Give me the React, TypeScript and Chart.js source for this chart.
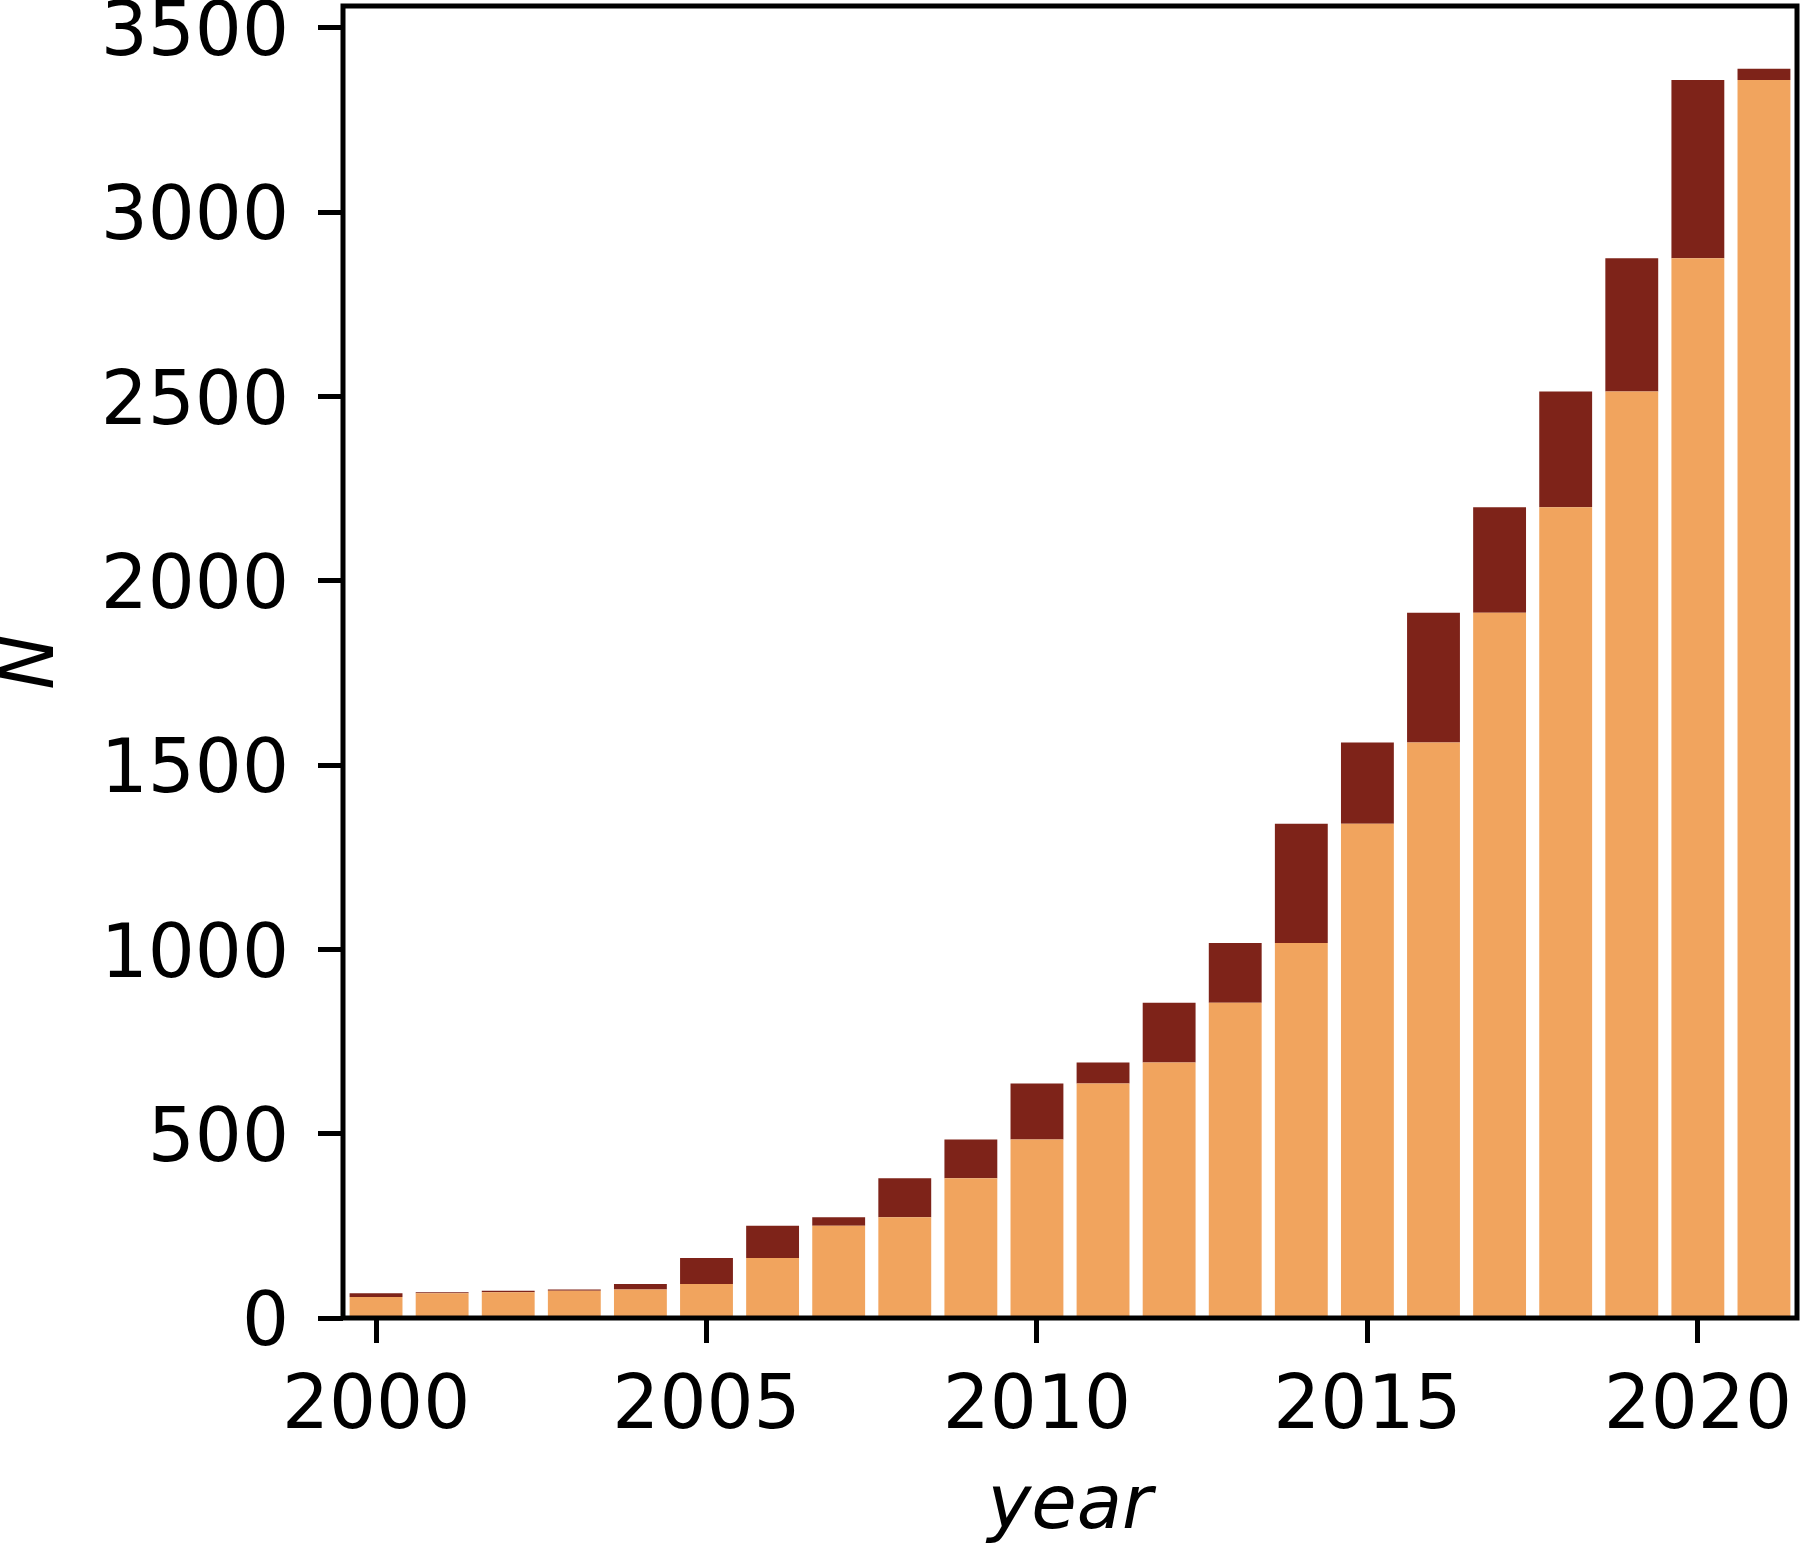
import React, { useEffect, useRef } from "react";
import { Chart, registerables } from "chart.js";

Chart.register(...registerables);

// ---- data ----
const years = [
  2000, 2001, 2002, 2003, 2004, 2005, 2006, 2007, 2008, 2009, 2010,
  2011, 2012, 2013, 2014, 2015, 2016, 2017, 2018, 2019, 2020, 2021,
];
// cumulative count up to the previous year (orange, bottom part)
const previousTotal = [
  57, 67, 70, 74, 77, 92, 163, 250, 273, 379, 484,
  636, 693, 855, 1017, 1341, 1561, 1913, 2199, 2513, 2875, 3358,
];
// new in that year (dark red, top part)
const newThisYear = [
  10, 3, 4, 3, 15, 71, 87, 23, 106, 105, 152,
  57, 162, 162, 324, 220, 352, 286, 314, 362, 483, 31,
];
const xTickValues = [2000, 2005, 2010, 2015, 2020];
const yTickValues = [0, 500, 1000, 1500, 2000, 2500, 3000, 3500];
const X_MIN = 1999.5;
const X_MAX = 2021.5;
const Y_MAX = 3559;

const ORANGE = "#F1A45E";
const DARK = "#7E2319";
const FONT = "'DejaVu Sans', sans-serif";
const FONT_SIZE = 74;

const framePlugin = {
  id: "frame",
  afterDraw(chart: any) {
    const { ctx, chartArea } = chart;
    const { left, top, right, bottom } = chartArea;
    ctx.save();
    ctx.strokeStyle = "#000";
    ctx.lineWidth = 5;
    ctx.strokeRect(left, top, right - left, bottom - top);
    ctx.restore();
  },
};

export default function App() {
  const ref = useRef<HTMLCanvasElement | null>(null);

  useEffect(() => {
    if (!ref.current) return;
    const chart = new Chart(ref.current, {
      type: "bar",
      data: {
        datasets: [
          {
            label: "previous",
            data: years.map((x, i) => ({ x, y: previousTotal[i] })),
            backgroundColor: ORANGE,
            borderWidth: 0,
            categoryPercentage: 1,
            barPercentage: 0.8,
          },
          {
            label: "new",
            data: years.map((x, i) => ({ x, y: newThisYear[i] })),
            backgroundColor: DARK,
            borderWidth: 0,
            categoryPercentage: 1,
            barPercentage: 0.8,
          },
        ],
      },
      options: {
        responsive: false,
        devicePixelRatio: 1,
        animation: false,
        layout: { padding: { top: 6, right: 3, left: 0, bottom: 0 } },
        plugins: {
          legend: { display: false },
          tooltip: { enabled: false },
        },
        scales: {
          x: {
            type: "linear",
            stacked: true,
            min: X_MIN,
            max: X_MAX,
            offset: false,
            afterBuildTicks: (scale: any) => {
              scale.ticks = xTickValues.map((v) => ({ value: v }));
            },
            afterFit: (scale: any) => {
              scale.height = 1546 - 1318;
              scale.paddingLeft = 0;
              scale.paddingRight = 0;
            },
            ticks: {
              callback: (v: any) => String(v),
              color: "#000",
              font: { family: FONT, size: FONT_SIZE },
              padding: 21,
              maxRotation: 0,
              minRotation: 0,
              autoSkip: false,
            },
            grid: {
              offset: false,
              drawOnChartArea: false,
              drawTicks: true,
              tickLength: 25,
              tickWidth: 5,
              tickColor: "#000",
              color: "#000",
            },
            border: { display: false },
            title: {
              display: true,
              text: "year",
              color: "#000",
              font: { family: FONT, size: FONT_SIZE, style: "italic", lineHeight: 1 },
              padding: { top: 0, bottom: 0 },
            },
          },
          y: {
            type: "linear",
            stacked: true,
            min: 0,
            max: Y_MAX,
            afterBuildTicks: (scale: any) => {
              scale.ticks = yTickValues.map((v) => ({ value: v }));
            },
            afterFit: (scale: any) => {
              scale.width = 343;
              scale.paddingTop = 0;
              scale.paddingBottom = 0;
            },
            ticks: {
              callback: (v: any) => String(v),
              color: "#000",
              font: { family: FONT, size: FONT_SIZE },
              padding: 29,
              labelOffset: 8,
              autoSkip: false,
            },
            grid: {
              drawOnChartArea: false,
              drawTicks: true,
              tickLength: 25,
              tickWidth: 5,
              tickColor: "#000",
              color: "#000",
            },
            border: { display: false },
            title: {
              display: true,
              text: "N",
              color: "#000",
              font: { family: FONT, size: FONT_SIZE, style: "italic", lineHeight: 0.9 },
              padding: { top: 0, bottom: 0 },
            },
          },
        },
      },
      plugins: [framePlugin],
    } as any);
    return () => chart.destroy();
  }, []);

  return (
    <div style={{ position: "absolute", left: 0, top: 0, width: 1800, height: 1546, background: "#fff" }}>
      <canvas ref={ref} width={1800} height={1546} style={{ width: 1800, height: 1546, display: "block" }} />
    </div>
  );
}
